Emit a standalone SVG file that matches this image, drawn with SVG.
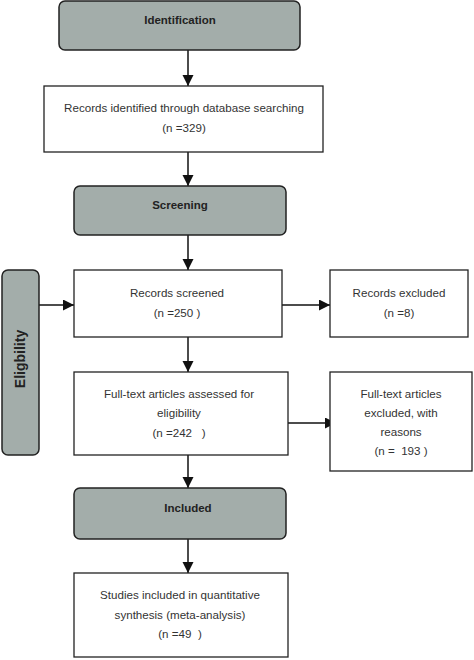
<svg xmlns="http://www.w3.org/2000/svg" width="474" height="660" viewBox="0 0 474 660">
<style>
.hdr{fill:#a3adaa;stroke:#222;stroke-width:1.5}
.box{fill:#fff;stroke:#222;stroke-width:1.3}
.ht{font-family:"Liberation Sans",Arial,sans-serif;font-size:11.5px;font-weight:bold;fill:#222;text-anchor:middle}
.t{font-family:"Liberation Sans",Arial,sans-serif;font-size:11.6px;fill:#333;text-anchor:middle;white-space:pre}
.c{stroke:#111;stroke-width:1.5;fill:none;marker-end:url(#ah)}
</style>
<defs>
<marker id="ah" markerWidth="12" markerHeight="12" refX="11" refY="5.5" orient="auto" markerUnits="userSpaceOnUse">
<path d="M0,0 L11,5.5 L0,11 Z" fill="#111"/>
</marker>
</defs>
<rect width="474" height="660" fill="#fff"/>
<g id="connectors">
<line class="c" x1="188" y1="50" x2="188" y2="86"/>
<line class="c" x1="188" y1="152" x2="188" y2="186"/>
<line class="c" x1="188" y1="235" x2="188" y2="270"/>
<line class="c" x1="39" y1="305" x2="74" y2="305"/>
<line class="c" x1="282" y1="305" x2="330" y2="305"/>
<line class="c" x1="188" y1="337" x2="188" y2="372"/>
<line class="c" x1="288" y1="423" x2="336" y2="423"/>
<line class="c" x1="188" y1="455" x2="188" y2="488"/>
<line class="c" x1="188" y1="539" x2="188" y2="573"/>
</g>
<g id="identification">
<rect class="hdr" x="59" y="1" width="241" height="49" rx="6"/>
<text class="ht" x="180" y="24">Identification</text>
</g>
<g id="records-identified">
<rect class="box" x="44" y="86" width="279" height="66"/>
<text class="t" x="184" y="112">Records identified through database searching</text>
<text class="t" x="184" y="132">(n =329)</text>
</g>
<g id="screening">
<rect class="hdr" x="74" y="186" width="212" height="49" rx="6"/>
<text class="ht" x="180" y="209">Screening</text>
</g>
<g id="eligibility">
<rect class="hdr" x="2" y="270" width="37" height="185" rx="6"/>
<text class="ht" style="font-size:14px" transform="translate(25,359) rotate(-90)" x="0" y="0">Eligbility</text>
</g>
<g id="records-screened">
<rect class="box" x="74" y="270" width="208" height="67"/>
<text class="t" x="177" y="297">Records screened</text>
<text class="t" x="177" y="317">(n =250 )</text>
</g>
<g id="records-excluded">
<rect class="box" x="330" y="270" width="138" height="67"/>
<text class="t" x="399" y="297">Records excluded</text>
<text class="t" x="399" y="317">(n =8)</text>
</g>
<g id="fulltext-assessed">
<rect class="box" x="74" y="372" width="214" height="83"/>
<text class="t" x="179" y="398">Full-text articles assessed for</text>
<text class="t" x="179" y="417">eligibility</text>
<text class="t" x="179" y="437">(n =242   )</text>
</g>
<g id="fulltext-excluded">
<rect class="box" x="330" y="372" width="142" height="99"/>
<text class="t" x="401" y="398">Full-text articles</text>
<text class="t" x="401" y="417">excluded, with</text>
<text class="t" x="401" y="436">reasons</text>
<text class="t" x="401" y="455">(n =  193 )</text>
</g>
<g id="included">
<rect class="hdr" x="74" y="488" width="212" height="51" rx="6"/>
<text class="ht" x="188" y="512">Included</text>
</g>
<g id="studies-included">
<rect class="box" x="74" y="573" width="214" height="84"/>
<text class="t" x="180" y="599">Studies included in quantitative</text>
<text class="t" x="180" y="619">synthesis (meta-analysis)</text>
<text class="t" x="180" y="638">(n =49  )</text>
</g>
</svg>
